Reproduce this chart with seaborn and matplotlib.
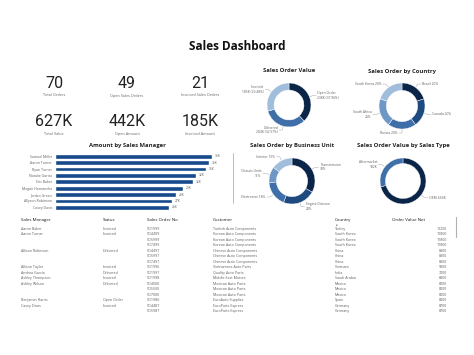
import numpy as np
import pandas as pd
import matplotlib
matplotlib.use("Agg")
import matplotlib.pyplot as plt
import seaborn as sns

W, H = 474, 355

# ---------------- data ----------------
kpi_values = ["70", "49", "21", "627K", "442K", "185K"]
kpi_labels = ["Total Orders", "Open Sales Orders", "Invoiced Sales Orders",
              "Total Value", "Open Amount", "Invoiced Amount"]

managers = ["Samuel Miller", "Aaron Turner", "Ryan Turner", "Natalie Garcia", "Eric Baker",
            "Megan Hernandez", "Jordan Green", "Allyson Robinson", "Casey Davis"]
manager_amounts = [36.0, 35.3, 34.6, 32.2, 31.6, 29.4, 27.8, 26.7, 26.1]  # thousands

status_names = ["Open Order", "Delivered", "Invoiced"]
status_values = [238, 204, 185]  # thousands
status_pcts = [37.96, 32.57, 29.48]

countries = ["Brazil", "Canada", "Russia", "South Africa", "South Korea"]
country_shares = [20, 20, 20, 20, 20]

units = ["Transmission", "Engine Division", "Electronics", "Chassis Units", "Interior"]
unit_shares = [33, 23, 18, 11, 15]

sales_types = ["OEM", "Aftermarket"]
sales_type_values = [444, 182]  # thousands

tbl_header = ["Sales Manager", "Status", "Sales Order No", "Customer", "Country", "Order Value Net"]
tbl_manager = ["Aaron Baker", "Aaron Turner", "", "", "Allison Robinson", "", "", "Allison Taylor",
               "Andrea Garcia", "Ashley Thompson", "Ashley Wilson", "", "", "Benjamin Harris",
               "Casey Davis", ""]
tbl_status = ["Invoiced", "Invoiced", "", "", "Delivered", "", "", "Invoiced", "Delivered",
              "Invoiced", "Delivered", "", "", "Open Order", "Invoiced", ""]
tbl_order = ["SO1999", "SO4499", "SO5999", "SO7499", "SO4497", "SO5997", "SO7497", "SO1996",
             "SO1997", "SO1998", "SO4000", "SO5500", "SO7000", "SO1986", "SO4487", "SO5987"]
tbl_customer = ["Turkish Auto Components", "Korean Auto Components", "Korean Auto Components",
                "Korean Auto Components", "Chinese Auto Components", "Chinese Auto Components",
                "Chinese Auto Components", "Vietnamese Auto Parts", "Quality Auto Parts",
                "Middle East Motors", "Mexican Auto Parts", "Mexican Auto Parts",
                "Mexican Auto Parts", "EuroAuto Supplies", "EuroParts Express", "EuroParts Express"]
tbl_country = ["Turkey", "South Korea", "South Korea", "South Korea", "China", "China", "China",
               "Vietnam", "India", "Saudi Arabia", "Mexico", "Mexico", "Mexico", "Spain",
               "Germany", "Germany"]
tbl_value = [10200, 11800, 11800, 11800, 8900, 8900, 8900, 9900, 7200, 8900, 8200, 8200, 8200,
             8300, 8700, 8700]

# ---------------- style ----------------
sns.set_theme(style="white")
plt.rcParams["font.family"] = ["Open Sans", "DejaVu Sans"]

BAR = "#164a8c"
NAVY5 = ["#0b2548", "#1f4a7f", "#3f6fa8", "#6e97c6", "#a0bddc"]
GRAY = "#606060"

fig = plt.figure(figsize=(W / 100, H / 100), dpi=100)
fig.patch.set_facecolor("white")


def fx(x):
    return x / W


def fy(y):
    return 1 - y / H


def add_ax(x0, y0, w, h):
    return fig.add_axes([x0 / W, 1 - (y0 + h) / H, w / W, h / H])


def txt(x, y, s, **kw):
    fig.text(fx(x), fy(y), s, **kw)


# title
txt(237, 47, "Sales Dashboard", ha="center", va="center", fontsize=8.5, fontweight="bold", color="#111")

# KPI cards
kpi_x = [54, 127, 200]
for i, (v, lab) in enumerate(zip(kpi_values, kpi_labels)):
    col = i % 3
    row = i // 3
    ny = 84 if row == 0 else 122
    ly = 95.5 if row == 0 else 134
    txt(kpi_x[col], ny, v, ha="center", va="center", fontsize=11.5, color="#222",
        family=["Roboto", "DejaVu Sans"])
    txt(kpi_x[col], ly, lab, ha="center", va="center", fontsize=2.7, color=GRAY)

# bar chart
txt(127, 145.5, "Amount by Sales Manager", ha="center", va="center", fontsize=4.2,
    fontweight="bold", color="#222")
step = (207.3 - 156.3) / 8
top = 156.3 - 0.5 * step
axb = add_ax(55, top, 157.3 * 40 / 36, step * 9)
df_bar = pd.DataFrame({"manager": managers, "amount": manager_amounts})
sns.barplot(data=df_bar, x="amount", y="manager", orient="h", color=BAR, width=0.74,
            saturation=1, ax=axb)
axb.set_xlim(0, 40)
axb.set_ylim(8.5, -0.5)
axb.set_xlabel("")
axb.set_ylabel("")
axb.set_xticks([])
axb.tick_params(axis="y", length=0, pad=2, labelsize=2.5, labelcolor=GRAY)
for s in axb.spines.values():
    s.set_visible(False)
axb.patch.set_alpha(0)
axb.bar_label(axb.containers[0], labels=[f"{v:.0f}K" for v in manager_amounts],
              padding=2, fontsize=2.3, color=GRAY)
# scrollbar
fig.add_artist(plt.Line2D([fx(232.5), fx(232.5)], [fy(153), fy(203)], color="#b0b0b0", lw=0.6))


def donut(cx, cy, r, values, colors, labels, title, ty, ring=0.32):
    ax = add_ax(cx - r, cy - r, 2 * r, 2 * r)
    wedges, _ = ax.pie(values, colors=colors, startangle=90, counterclock=False,
                       wedgeprops=dict(width=ring, edgecolor="white", linewidth=0.3))
    ax.set_xlim(-1, 1)
    ax.set_ylim(-1, 1)
    ax.set_aspect("equal")
    ax.axis("off")
    for w, lab in zip(wedges, labels):
        ang = np.deg2rad((w.theta1 + w.theta2) / 2)
        x, y = np.cos(ang), np.sin(ang)
        sgn = 1 if x >= 0 else -1
        p1 = (1.02 * x, 1.02 * y)
        p2 = (1.18 * x, 1.18 * y)
        p3 = (p2[0] + 0.14 * sgn, p2[1])
        ax.plot([p1[0], p2[0], p3[0]], [p1[1], p2[1], p3[1]], color="#999", lw=0.3, clip_on=False)
        ax.text(p3[0] + 0.05 * sgn, p3[1], lab, ha="left" if sgn > 0 else "right", va="center",
                fontsize=2.4, color=GRAY, clip_on=False, linespacing=1.2,
                multialignment="left" if sgn > 0 else "right")
    txt(cx, ty, title, ha="center", va="center", fontsize=4.2, fontweight="bold", color="#222")
    return ax


status_colors = [NAVY5[0], NAVY5[2], NAVY5[4]]
status_labels = [f"{n}\n{v}K ({p:.2f}%)" for n, v, p in zip(status_names, status_values, status_pcts)]
donut(289, 105, 22, status_values, status_colors, status_labels, "Sales Order Value", 71)

country_labels = [f"{c} {s}%" if c != "South Africa" else f"{c}\n{s}%" for c, s in zip(countries, country_shares)]
donut(402, 106, 23, country_shares, NAVY5, country_labels, "Sales Order by Country", 71)

unit_labels = [f"{u}\n{s}%" if u in ("Transmission", "Engine Division", "Chassis Units") else f"{u} {s}%"
               for u, s in zip(units, unit_shares)]
donut(292, 181, 23, unit_shares, NAVY5, unit_labels, "Sales Order by Business Unit", 145)

type_labels = [f"{t} {v}K" if t == "OEM" else f"{t}\n{v}K" for t, v in zip(sales_types, sales_type_values)]
donut(403, 181, 23, sales_type_values, [NAVY5[0], NAVY5[2]], type_labels,
      "Sales Order Value by Sales Type", 145, ring=0.24)

# table
col_x = [21, 103, 147, 213, 335, 447]
hy = 220
for i, hname in enumerate(tbl_header):
    x = col_x[i] if i < 5 else 392
    txt(x, hy, hname, ha="left", va="center", fontsize=3.2, color="#1a1a1a")
# sort arrow under Country
txt(335.5, 225, "\u25bc", ha="left", va="center", fontsize=1.6, color="#444")
row_step = (311 - 228.7) / 15
for r in range(len(tbl_order)):
    y = 228.7 + r * row_step
    cells = [tbl_manager[r], tbl_status[r], tbl_order[r], tbl_customer[r], tbl_country[r]]
    for i, c in enumerate(cells):
        txt(col_x[i], y, c, ha="left", va="center", fontsize=2.6, color=GRAY)
    txt(col_x[5], y, f"{tbl_value[r]}", ha="right", va="center", fontsize=2.6, color=GRAY)
fig.add_artist(plt.Line2D([fx(456), fx(456)], [fy(217), fy(237)], color="#b0b0b0", lw=0.8))

fig.savefig("out.png", dpi=100, facecolor="white")
